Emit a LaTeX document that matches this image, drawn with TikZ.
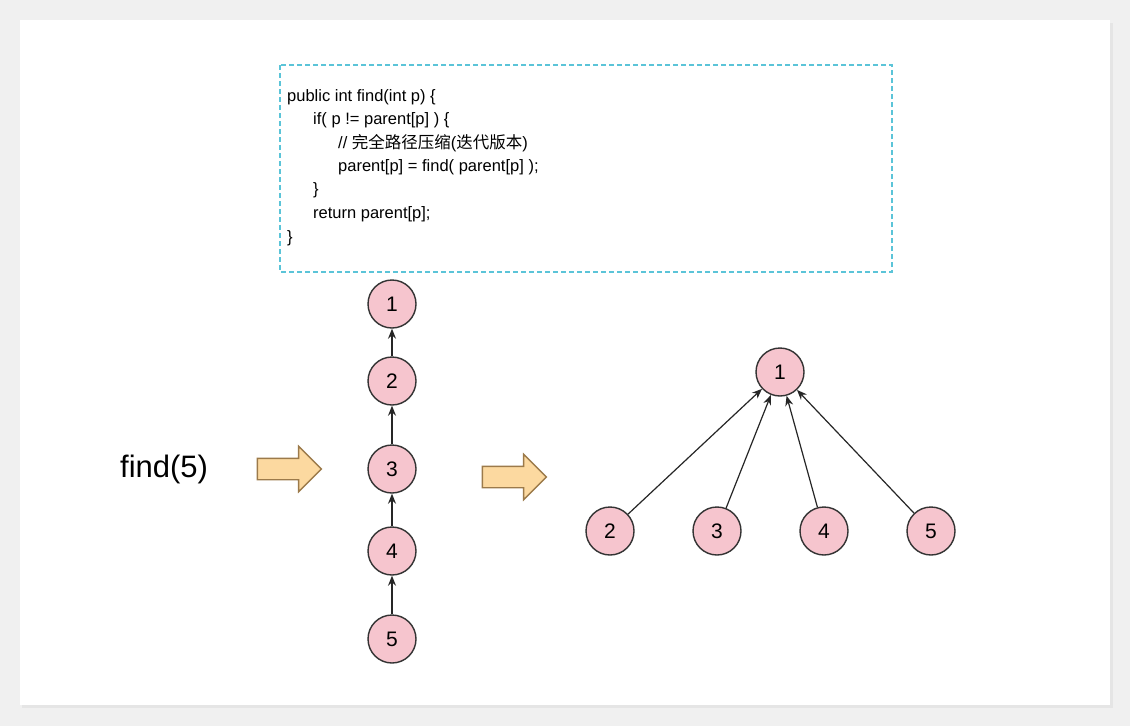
\documentclass[tikz,border=0pt]{standalone}
\usepackage{fontspec}
\setmainfont{Liberation Sans}
\newfontfamily\cjk{Noto Sans CJK SC}
\usetikzlibrary{shapes.arrows,arrows.meta}
\definecolor{nodefill}{HTML}{F6C5CE}
\definecolor{arrfill}{HTML}{FCD9A0}
\definecolor{arrdraw}{HTML}{9C7A4A}
\definecolor{boxline}{HTML}{5BC4D8}
\begin{document}
\begin{tikzpicture}[x=1pt,y=-1pt,
  nd/.style={circle,draw=black!80,line width=1.4pt,fill=nodefill,minimum size=48pt,inner sep=0pt,font=\fontsize{21}{24}\selectfont},
  ed/.style={-{Stealth[length=10pt,width=8pt]},line width=1.2pt,black!85},
  big/.style={single arrow,draw=arrdraw,fill=arrfill,line width=1.4pt,inner xsep=0pt,inner ysep=10pt,single arrow head extend=12pt,minimum height=64pt,single arrow head indent=0pt},
  code/.style={anchor=west,inner sep=0pt,font=\fontsize{16.5}{19}\selectfont}]
\fill[black!6] (0,0) rectangle (1130,726);
\fill[black!10] (22,23) rectangle (1113,708);
\fill[white] (20,20) rectangle (1110,705);
\useasboundingbox (0,0) rectangle (1130,726);
\draw[boxline,dash pattern=on 5pt off 3pt,line width=1.3pt] (280,65) rectangle (892,272);
\node[code] (c1) at (287,97) {public int find(int p) \{};
\node[code] (c2) at (313,120) {if( p != parent[p] ) \{};
\node[code] (c3) at (338,143) {// {\cjk 完全路径压缩}({\cjk 迭代版本})};
\node[code] (c4) at (338,167) {parent[p] = find( parent[p] );};
\node[code] (c5) at (313,190) {\}};
\node[code] (c6) at (313,214) {return parent[p];};
\node[code] (c7) at (287,238) {\}};
\node[anchor=west,inner sep=0pt,font=\fontsize{31}{36}\selectfont] (f) at (120,469) {find(5)};
\node[big] (a1) at (284,469) {};
\node[big] (a2) at (509,477) {};
\node[nd] (l1) at (392,304) {1};
\node[nd] (l2) at (392,381) {2};
\node[nd] (l3) at (392,469) {3};
\node[nd] (l4) at (392,551) {4};
\node[nd] (l5) at (392,639) {5};
\draw[ed] (l2) -- (l1);
\draw[ed] (l3) -- (l2);
\draw[ed] (l4) -- (l3);
\draw[ed] (l5) -- (l4);
\node[nd] (r1) at (780,372) {1};
\node[nd] (r2) at (610,531) {2};
\node[nd] (r3) at (717,531) {3};
\node[nd] (r4) at (824,531) {4};
\node[nd] (r5) at (931,531) {5};
\foreach \i in {2,3,4,5} \draw[ed] (r\i) -- (r1);
\end{tikzpicture}
\end{document}
